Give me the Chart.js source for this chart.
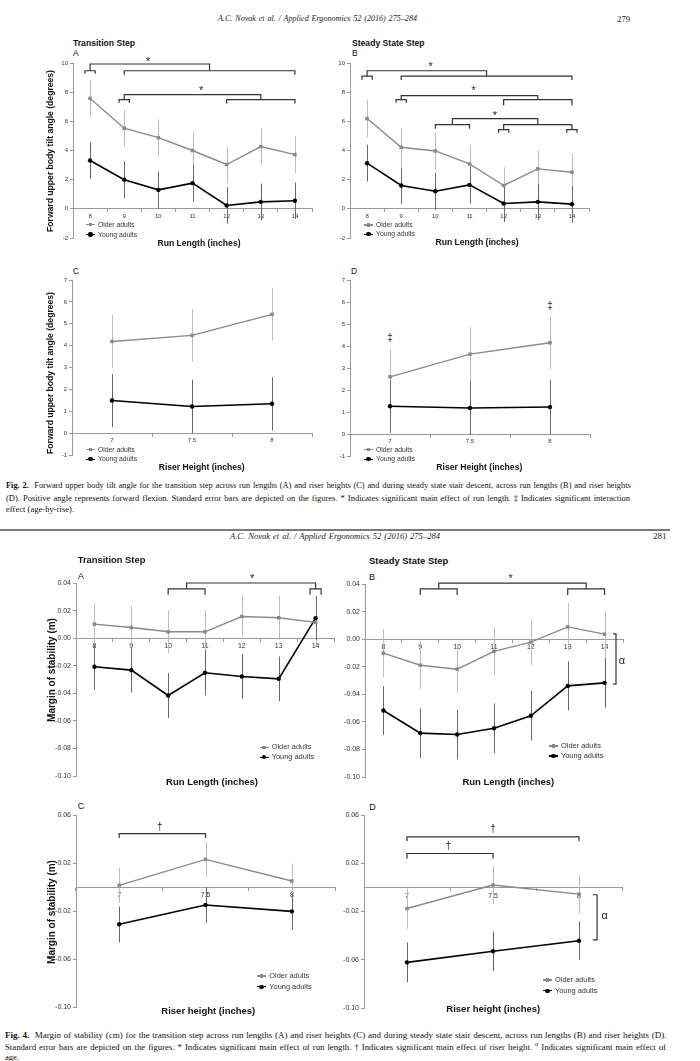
<!DOCTYPE html>
<html><head><meta charset="utf-8">
<script src="https://cdn.jsdelivr.net/npm/chart.js@4.4.1/dist/chart.umd.min.js"></script>
<style>
html,body{margin:0;padding:0;background:#fff;}
body{width:700px;height:1061px;position:relative;overflow:hidden;font-family:"Liberation Sans",Arial,sans-serif;color:#111;}
.abs{position:absolute;white-space:nowrap;line-height:1;}
canvas{position:absolute;}
</style></head><body>
<script>
// ---------------- DATA ----------------
const runLengths = ['8','9','10','11','12','13','14'];
const riserHeights = ['7','7.5','8'];
const groupNames = ['Older adults','Young adults'];

const tiltRunTicks  = [-2,0,2,4,6,8,10];
const tiltRiseTicks = [-1,0,1,2,3,4,5,6,7];
const mosRunTicks   = [-0.10,-0.08,-0.06,-0.04,-0.02,0.00,0.02,0.04];
const mosRiseTicks  = [-0.10,-0.06,-0.02,0.02,0.06];

// Fig 2 A: forward tilt, transition step, run length
const tiltRunTransOlder   = [7.57, 5.53, 4.88, 4.00, 3.04, 4.27, 3.72];
const tiltRunTransOlderSE = [1.26, 1.24, 1.25, 1.25, 1.24, 1.25, 1.26];
const tiltRunTransYoung   = [3.31, 2.00, 1.30, 1.76, 0.23, 0.48, 0.55];
const tiltRunTransYoungSE = [1.25, 1.26, 1.25, 1.24, 1.25, 1.25, 1.25];
// Fig 2 B: forward tilt, steady state step, run length
const tiltRunSteadyOlder   = [6.19, 4.22, 3.97, 3.08, 1.60, 2.74, 2.51];
const tiltRunSteadyOlderSE = [1.28, 1.28, 1.27, 1.26, 1.24, 1.25, 1.26];
const tiltRunSteadyYoung   = [3.13, 1.60, 1.21, 1.64, 0.37, 0.48, 0.32];
const tiltRunSteadyYoungSE = [1.26, 1.25, 1.27, 1.27, 1.27, 1.25, 1.27];
// Fig 2 C: forward tilt, transition step, riser height
const tiltRiseTransOlder   = [4.19, 4.47, 5.43];
const tiltRiseTransOlderSE = [1.21, 1.21, 1.20];
const tiltRiseTransYoung   = [1.49, 1.22, 1.34];
const tiltRiseTransYoungSE = [1.21, 1.22, 1.22];
// Fig 2 D: forward tilt, steady state step, riser height
const tiltRiseSteadyOlder   = [2.60, 3.63, 4.15];
const tiltRiseSteadyOlderSE = [1.22, 1.22, 1.22];
const tiltRiseSteadyYoung   = [1.26, 1.18, 1.23];
const tiltRiseSteadyYoungSE = [1.21, 1.22, 1.22];
// Fig 4 A: margin of stability, transition step, run length
const mosRunTransOlder   = [0.0102, 0.0077, 0.0046, 0.0046, 0.0157, 0.0148, 0.0114];
const mosRunTransOlderSE = [0.0155, 0.0157, 0.0157, 0.0157, 0.0155, 0.0160, 0.0160];
const mosRunTransYoung   = [-0.0208, -0.0232, -0.0416, -0.0251, -0.0278, -0.0295, 0.0145];
const mosRunTransYoungSE = [0.0163, 0.0163, 0.0163, 0.0165, 0.0162, 0.0162, 0.0160];
// Fig 4 B: margin of stability, steady state step, run length
const mosRunSteadyOlder   = [-0.0102, -0.0189, -0.0218, -0.0089, -0.0022, 0.0089, 0.0036];
const mosRunSteadyOlderSE = [0.0175, 0.0172, 0.0172, 0.0172, 0.0168, 0.0172, 0.0172];
const mosRunSteadyYoung   = [-0.0518, -0.0682, -0.0692, -0.0646, -0.0556, -0.0339, -0.0317];
const mosRunSteadyYoungSE = [0.0177, 0.0180, 0.0180, 0.0180, 0.0180, 0.0178, 0.0180];
// Fig 4 C: margin of stability, transition step, riser height
const mosRiseTransOlder   = [0.0014, 0.0230, 0.0050];
const mosRiseTransOlderSE = [0.0147, 0.0146, 0.0145];
const mosRiseTransYoung   = [-0.0311, -0.0150, -0.0203];
const mosRiseTransYoungSE = [0.0149, 0.0150, 0.0155];
// Fig 4 D: margin of stability, steady state step, riser height
const mosRiseSteadyOlder   = [-0.0175, 0.0019, -0.0056];
const mosRiseSteadyOlderSE = [0.0167, 0.0160, 0.0160];
const mosRiseSteadyYoung   = [-0.0622, -0.0530, -0.0442];
const mosRiseSteadyYoungSE = [0.0164, 0.0164, 0.0160];

// Significance brackets (category index / data units)
const sigTiltRunTrans = [
  {x1:-0.15,x2:0.15,y:9.47,drop:0.2},{x1:0,x2:3.5,y:9.93,drop:0.46},{x1:1,x2:6,y:9.47,drop:0.27},
  {x1:0.85,x2:1.15,y:7.49,drop:0.22},{x1:1,x2:5,y:7.83,drop:0.34},{x1:4,x2:6,y:7.49,drop:0.27}];
const markTiltRunTrans = [{x:1.7,y:10.12,s:'*'},{x:3.25,y:8.13,s:'*'}];
const sigTiltRunSteady = [
  {x1:-0.15,x2:0.15,y:9.1,drop:0.25},{x1:0,x2:3.5,y:9.47,drop:0.37},{x1:1,x2:6,y:9.1,drop:0.27},
  {x1:0.85,x2:1.15,y:7.49,drop:0.22},{x1:1,x2:5,y:7.76,drop:0.27},{x1:4,x2:6,y:7.49,drop:0.41},
  {x1:2,x2:3,y:5.77,drop:0.27},{x1:2.5,x2:5,y:6.18,drop:0.41},{x1:4,x2:6,y:5.77,drop:0.34},
  {x1:3.85,x2:4.15,y:5.43,drop:0.22},{x1:5.85,x2:6.15,y:5.43,drop:0.22}];
const markTiltRunSteady = [{x:1.86,y:9.8,s:'*'},{x:3.12,y:8.13,s:'*'},{x:3.74,y:6.42,s:'*'}];
const markTiltRiseSteady = [{x:0,y:4.36,s:'‡'},{x:2,y:5.83,s:'‡'}];
const sigMosRunTrans = [{x1:2,x2:3,y:0.0358,drop:0.0043},{x1:2.5,x2:6,y:0.04,drop:0.0042},{x1:5.85,x2:6.15,y:0.0358,drop:0.0043}];
const markMosRunTrans = [{x:4.28,y:0.0435,s:'*'}];
const sigMosRunSteady = [{x1:1,x2:2,y:0.0365,drop:0.0044},{x1:1.5,x2:5.5,y:0.0406,drop:0.0041},{x1:5,x2:6,y:0.0365,drop:0.0044}];
const markMosRunSteady = [{x:3.45,y:0.0444,s:'*'},{x:6.47,y:-0.015,s:'α'}];
const ageMosRunSteady = [{x:6.31,y1:0.0038,y2:-0.0326,tick:0.08}];
const sigMosRiseTrans = [{x1:0,x2:1,y:0.0445,drop:0.0037}];
const markMosRiseTrans = [{x:0.47,y:0.05,s:'†'}];
const sigMosRiseSteady = [{x1:0,x2:2,y:0.0419,drop:0.0036},{x1:0,x2:1,y:0.0281,drop:0.0042}];
const markMosRiseSteady = [{x:1.0,y:0.048,s:'†'},{x:0.48,y:0.0344,s:'†'},{x:2.3,y:-0.0233,s:'α'}];
const ageMosRiseSteady = [{x:2.21,y1:-0.0061,y2:-0.0436,tick:0.05}];

// ---------------- STYLE / HELPERS ----------------
const COL = {older:'#8a8a8a', young:'#000', olderErr:'#bcbcbc', youngErr:'#666', axis:'#9a9a9a', tick:'#333', br:'#333'};

function T(html, x, y, o) {
  o = o || {};
  const d = document.createElement('div');
  d.className = 'abs'; d.innerHTML = html;
  d.style.left = x + 'px'; d.style.top = y + 'px';
  d.style.fontSize = (o.size || 9) + 'px';
  if (o.bold) d.style.fontWeight = 'bold';
  if (o.font) d.style.fontFamily = o.font;
  if (o.italic) d.style.fontStyle = 'italic';
  d.style.color = o.color || '#111';
  const ax = o.align === 'center' ? '-50%' : o.align === 'right' ? '-100%' : '0';
  d.style.transform = 'translate(' + ax + ',-50%)' + (o.rot ? ' rotate(-90deg)' : '');
  document.body.appendChild(d);
  return d;
}
function fitLine(html, x, y, width, size, o) {
  o = Object.assign({}, o || {});
  o.size = size;
  let d = T(html, x, y, o);
  let w = d.getBoundingClientRect().width;
  if (w > width * 0.99 || w < width * 0.9) {
    const s2 = size * width * 0.965 / w;
    d.style.fontSize = s2 + 'px';
    w = d.getBoundingClientRect().width;
  }
  const n = (d.textContent.match(/ /g) || []).length;
  if (n) d.style.wordSpacing = ((width - w) / n) + 'px';
  return d;
}
function legendItem(mx, tx, y, size, color, shape) {
  const ln = document.createElement('div');
  ln.style.cssText = 'position:absolute;left:' + mx + 'px;top:' + (y - 0.7) + 'px;width:9px;height:1.4px;background:' + color + ';';
  document.body.appendChild(ln);
  const mk = document.createElement('div');
  const s = shape === 'circle' ? 4.2 : 3.4;
  mk.style.cssText = 'position:absolute;left:' + (mx + 4.5 - s / 2) + 'px;top:' + (y - s / 2) + 'px;width:' + s + 'px;height:' + s + 'px;background:' + color + ';' + (shape === 'circle' ? 'border-radius:50%;' : '');
  document.body.appendChild(mk);
}

function annot(p) {
  return {
    id: 'annot',
    beforeDatasetsDraw(chart) {
      const ctx = chart.ctx, xs = chart.scales.x, ys = chart.scales.y;
      ctx.save(); ctx.lineWidth = 1;
      [[p.older, p.olderSE, COL.olderErr], [p.young, p.youngSE, COL.youngErr]].forEach(function (g) {
        ctx.strokeStyle = g[2]; ctx.beginPath();
        g[0].forEach(function (v, i) {
          const x = Math.round(xs.getPixelForValue(i)) + 0.5;
          ctx.moveTo(x, ys.getPixelForValue(v + g[1][i]));
          ctx.lineTo(x, ys.getPixelForValue(v - g[1][i]));
        });
        ctx.stroke();
      });
      ctx.restore();
    },
    afterDatasetsDraw(chart) {
      const ctx = chart.ctx, xs = chart.scales.x, ys = chart.scales.y;
      const X = v => xs.getPixelForValue(v), Y = v => ys.getPixelForValue(v);
      ctx.save(); ctx.lineWidth = 1.2; ctx.strokeStyle = COL.br; ctx.lineJoin = 'miter';
      (p.brackets || []).forEach(function (b) {
        ctx.beginPath();
        ctx.moveTo(X(b.x1), Y(b.y - b.drop)); ctx.lineTo(X(b.x1), Y(b.y));
        ctx.lineTo(X(b.x2), Y(b.y)); ctx.lineTo(X(b.x2), Y(b.y - b.drop));
        ctx.stroke();
      });
      (p.age || []).forEach(function (b) {
        ctx.beginPath();
        ctx.moveTo(X(b.x - b.tick), Y(b.y1)); ctx.lineTo(X(b.x), Y(b.y1));
        ctx.lineTo(X(b.x), Y(b.y2)); ctx.lineTo(X(b.x - b.tick), Y(b.y2));
        ctx.stroke();
      });
      ctx.restore();
    }
  };
}

function makePanel(p) {
  const A = {l: Math.round(p.area.l), r: Math.round(p.area.r), t: Math.round(p.area.t), b: Math.round(p.area.b)};
  const padL = 42, padT = 12, padR = 12, padB = 12, yW = 32;
  const cw = A.r - A.l + padL + padR, ch = A.b - A.t + padT + padB;
  const cv = document.createElement('canvas');
  cv.width = cw; cv.height = ch;
  cv.style.cssText = 'left:' + (A.l - padL) + 'px;top:' + (A.t - padT) + 'px;width:' + cw + 'px;height:' + ch + 'px;';
  document.body.appendChild(cv);
  const fmt = p.fmt || (v => String(v));
  const font = {family: 'Liberation Sans', size: p.tickSize};
  const chart = new Chart(cv, {
    type: 'line',
    data: {labels: p.labels, datasets: [
      {label: groupNames[0], data: p.older, borderColor: COL.older, backgroundColor: COL.older, borderWidth: 1.4,
       pointStyle: 'rect', pointRadius: 2.5, pointBorderWidth: 0, tension: 0},
      {label: groupNames[1], data: p.young, borderColor: COL.young, backgroundColor: COL.young, borderWidth: 1.6,
       pointStyle: 'circle', pointRadius: 2.2, pointBorderWidth: 0, tension: 0}
    ]},
    options: {
      responsive: false, animation: false, events: [],
      layout: {padding: {left: padL - yW, top: padT, right: padR, bottom: padB}},
      plugins: {legend: {display: false}, tooltip: {enabled: false}},
      scales: {
        x: {type: 'category', offset: true, position: {y: 0},
            grid: {offset: true, drawOnChartArea: false, drawTicks: true, tickLength: 3, color: COL.axis},
            border: {display: true, color: COL.axis, width: 1},
            ticks: {autoSkip: false, maxRotation: 0, padding: 1, color: COL.tick, font: font}},
        y: {type: 'linear', min: p.ticks[0], max: p.ticks[p.ticks.length - 1],
            afterBuildTicks: s => { s.ticks = p.ticks.map(v => ({value: v})); },
            afterFit: s => { s.width = yW; },
            grid: {drawOnChartArea: false, drawTicks: true, tickLength: 3, color: COL.axis},
            border: {display: true, color: COL.axis, width: 1},
            ticks: {padding: 2, color: COL.tick, font: font, callback: v => fmt(v)}}
      }
    },
    plugins: [annot(p)]
  });
  const xs = chart.scales.x, ys = chart.scales.y;
  (p.marks || []).forEach(function (m) {
    const sz = m.s === 'α' ? 11 : m.s === '*' ? 11 : 10;
    T(m.s, A.l - padL + xs.getPixelForValue(m.x), A.t - padT + ys.getPixelForValue(m.y),
      {align: 'center', size: sz, color: '#222'});
  });
  const L = p.legend;
  legendItem(L.mx, L.tx, L.y1, L.size, COL.older, 'rect');
  legendItem(L.mx, L.tx, L.y2, L.size, COL.young, 'circle');
  T(groupNames[0], L.tx, L.y1, {size: L.size, color: '#333'});
  T(groupNames[1], L.tx, L.y2, {size: L.size, color: '#333'});
  return chart;
}

const f2 = v => (Math.abs(v) < 1e-9 ? 0 : v).toFixed(2);

// ---------------- PAGE 1 (Fig. 2) ----------------
fitLine('A.C. Novak et al. / Applied Ergonomics 52 (2016) 275–284', 218, 18.5, 199, 8.8, {font: '"Liberation Serif",serif', italic: true, color: '#222'});
T('279', 617, 18.5, {size: 8.8, font: '"Liberation Serif",serif', color: '#222'});

T('Transition Step', 73, 42.7, {size: 8.6, bold: true});
T('A', 73, 53.3, {size: 8.4});
T('Steady State Step', 352, 42.7, {size: 8.6, bold: true});
T('B', 352, 53.3, {size: 8.4});
T('C', 73, 271, {size: 8.4});
T('D', 351, 270.7, {size: 8.4});

makePanel({area: {l: 73, r: 312, t: 63.3, b: 238.3}, labels: runLengths, ticks: tiltRunTicks, tickSize: 6,
  older: tiltRunTransOlder, olderSE: tiltRunTransOlderSE, young: tiltRunTransYoung, youngSE: tiltRunTransYoungSE,
  brackets: sigTiltRunTrans, marks: markTiltRunTrans, legend: {mx: 86, tx: 98, y1: 224.5, y2: 234.5, size: 6.8}});
makePanel({area: {l: 350, r: 589, t: 63.3, b: 238.3}, labels: runLengths, ticks: tiltRunTicks, tickSize: 6,
  older: tiltRunSteadyOlder, olderSE: tiltRunSteadyOlderSE, young: tiltRunSteadyYoung, youngSE: tiltRunSteadyYoungSE,
  brackets: sigTiltRunSteady, marks: markTiltRunSteady, legend: {mx: 364, tx: 376, y1: 225, y2: 234.3, size: 6.8}});
makePanel({area: {l: 71.5, r: 311.5, t: 280, b: 455.2}, labels: riserHeights, ticks: tiltRiseTicks, tickSize: 6,
  older: tiltRiseTransOlder, olderSE: tiltRiseTransOlderSE, young: tiltRiseTransYoung, youngSE: tiltRiseTransYoungSE,
  legend: {mx: 86, tx: 98, y1: 449.6, y2: 459.3, size: 6.8}});
makePanel({area: {l: 350, r: 590, t: 280, b: 456.3}, labels: riserHeights, ticks: tiltRiseTicks, tickSize: 6,
  older: tiltRiseSteadyOlder, olderSE: tiltRiseSteadyOlderSE, young: tiltRiseSteadyYoung, youngSE: tiltRiseSteadyYoungSE,
  marks: markTiltRiseSteady, legend: {mx: 364, tx: 376, y1: 449.6, y2: 459.3, size: 6.8}});

T('Forward upper body tilt angle (degrees)', 50, 151, {size: 8.6, bold: true, align: 'center', rot: true});
T('Forward upper body tilt angle (degrees)', 50, 373, {size: 8.6, bold: true, align: 'center', rot: true});
T('Run Length (inches)', 199, 242.5, {size: 8.6, bold: true, align: 'center'});
T('Run Length (inches)', 477, 242.3, {size: 8.6, bold: true, align: 'center'});
T('Riser Height (inches)', 201.7, 466.7, {size: 8.6, bold: true, align: 'center'});
T('Riser Height (inches)', 479.3, 466.7, {size: 8.6, bold: true, align: 'center'});

const capFont = {font: '"Liberation Serif",serif', color: '#111'};
fitLine('<b>Fig. 2.</b>&nbsp; Forward upper body tilt angle for the transition step across run lengths (A) and riser heights (C) and during steady state stair descent, across run lengths (B) and riser heights', 6, 485.5, 624, 9, capFont);
fitLine('(D). Positive angle represents forward flexion. Standard error bars are depicted on the figures. * Indicates significant main effect of run length. ‡ Indicates significant interaction', 6, 497.5, 624, 9, capFont);
T('effect (age-by-rise).', 6, 509, Object.assign({size: 8.6}, capFont));

// ---------------- PAGE 2 (Fig. 4) ----------------
const rule = document.createElement('div');
rule.style.cssText = 'position:absolute;left:0;top:529.3px;width:670px;height:1.5px;background:#7a7a7a;';
document.body.appendChild(rule);
fitLine('A.C. Novak et al. / Applied Ergonomics 52 (2016) 275–284', 230, 535.8, 210, 9, {font: '"Liberation Serif",serif', italic: true, color: '#222'});
T('281', 653, 535.8, {size: 9, font: '"Liberation Serif",serif', color: '#222'});

T('Transition Step', 77.7, 560, {size: 9.4, bold: true});
T('A', 78, 576, {size: 9});
T('Steady State Step', 369, 561, {size: 9.4, bold: true});
T('B', 369, 576.7, {size: 9});
T('C', 77.7, 806, {size: 9});
T('D', 369.3, 806.7, {size: 9});

makePanel({area: {l: 76, r: 334, t: 582.7, b: 775.7}, labels: runLengths, ticks: mosRunTicks, tickSize: 7, fmt: f2,
  older: mosRunTransOlder, olderSE: mosRunTransOlderSE, young: mosRunTransYoung, youngSE: mosRunTransYoungSE,
  brackets: sigMosRunTrans, marks: markMosRunTrans, legend: {mx: 259.5, tx: 271.7, y1: 747.3, y2: 757.3, size: 7.4}});
makePanel({area: {l: 365, r: 623, t: 584.3, b: 777.3}, labels: runLengths, ticks: mosRunTicks, tickSize: 7, fmt: f2,
  older: mosRunSteadyOlder, olderSE: mosRunSteadyOlderSE, young: mosRunSteadyYoung, youngSE: mosRunSteadyYoungSE,
  brackets: sigMosRunSteady, age: ageMosRunSteady, marks: markMosRunSteady, legend: {mx: 549, tx: 561, y1: 746, y2: 756, size: 7.4}});
makePanel({area: {l: 76, r: 334.6, t: 815, b: 1007.3}, labels: riserHeights, ticks: mosRiseTicks, tickSize: 7, fmt: f2,
  older: mosRiseTransOlder, olderSE: mosRiseTransOlderSE, young: mosRiseTransYoung, youngSE: mosRiseTransYoungSE,
  brackets: sigMosRiseTrans, marks: markMosRiseTrans, legend: {mx: 257, tx: 269.3, y1: 976, y2: 986.7, size: 7.4}});
makePanel({area: {l: 364, r: 621.5, t: 815, b: 1007.7}, labels: riserHeights, ticks: mosRiseTicks, tickSize: 7, fmt: f2,
  older: mosRiseSteadyOlder, olderSE: mosRiseSteadyOlderSE, young: mosRiseSteadyYoung, youngSE: mosRiseSteadyYoungSE,
  brackets: sigMosRiseSteady, age: ageMosRiseSteady, marks: markMosRiseSteady, legend: {mx: 543, tx: 555, y1: 980, y2: 990.7, size: 7.4}});

T('Margin of stability (m)', 51.7, 670, {size: 10, bold: true, align: 'center', rot: true});
T('Margin of stability (m)', 51.7, 912, {size: 10, bold: true, align: 'center', rot: true});
T('Run Length (inches)', 212, 782.3, {size: 9.5, bold: true, align: 'center'});
T('Run Length (inches)', 508.3, 781.7, {size: 9.5, bold: true, align: 'center'});
T('Riser height (inches)', 208.3, 1010.7, {size: 9.5, bold: true, align: 'center'});
T('Riser height (inches)', 493.3, 1009.3, {size: 9.5, bold: true, align: 'center'});

fitLine('<b>Fig. 4.</b>&nbsp; Margin of stability (cm) for the transition step across run lengths (A) and riser heights (C) and during steady state stair descent, across run lengths (B) and riser heights (D).', 5, 1035, 661, 9, capFont);
fitLine('Standard error bars are depicted on the figures. * Indicates significant main effect of run length. † Indicates significant main effect of riser height. <sup style="font-size:6px">α</sup> Indicates significant main effect of', 5, 1046, 661, 9, capFont);
T('age.', 5, 1056.7, Object.assign({size: 8.6}, capFont));
</script>
</body></html>
